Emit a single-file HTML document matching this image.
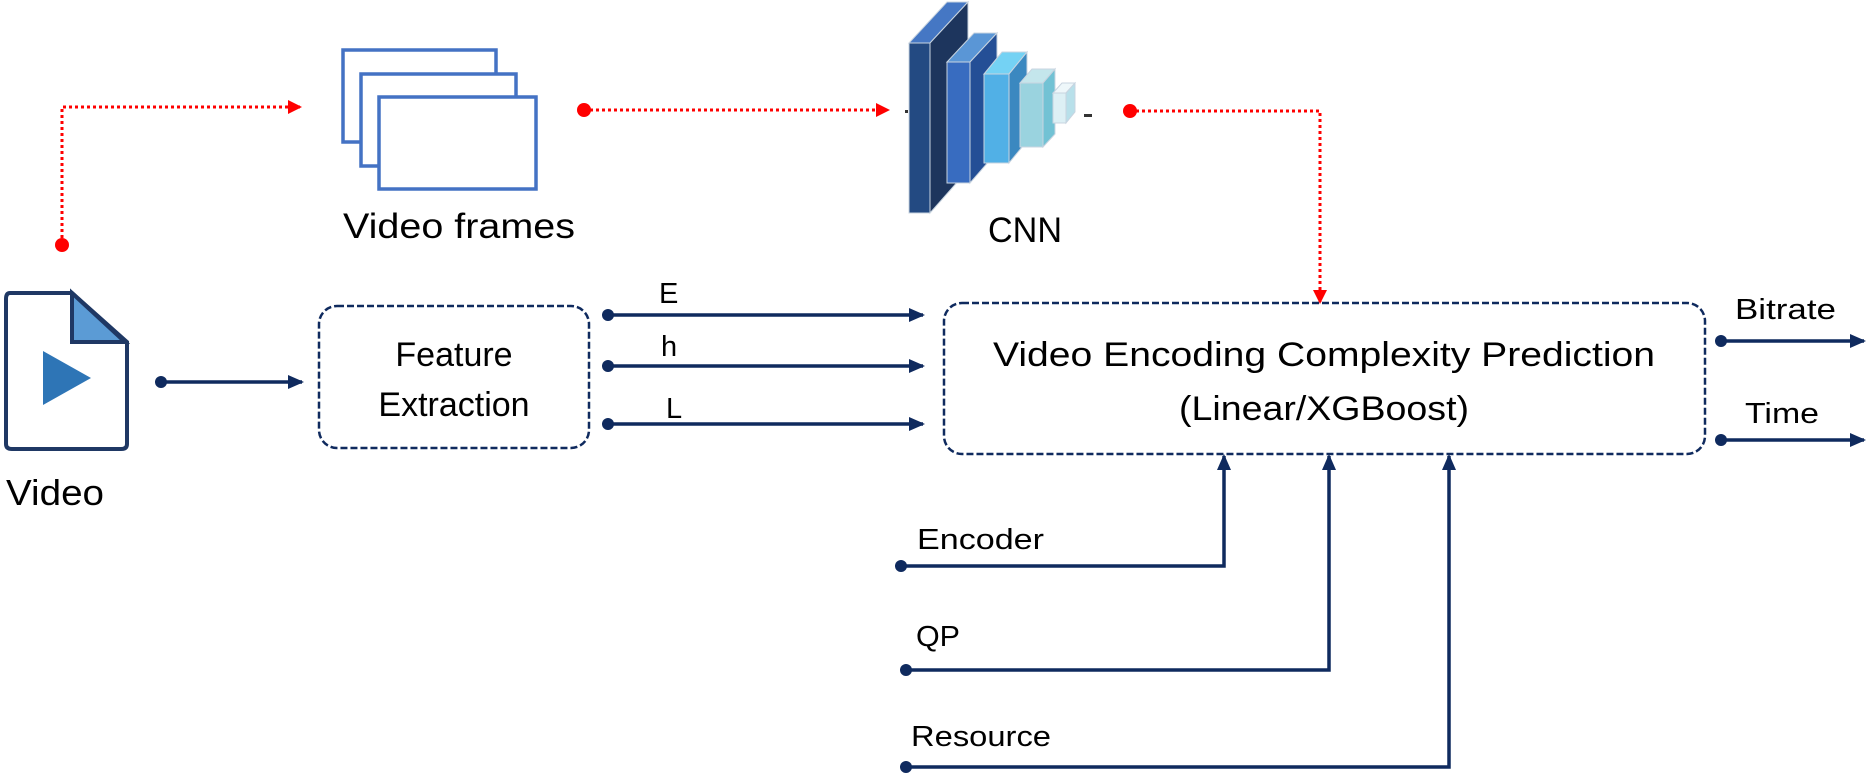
<!DOCTYPE html>
<html><head><meta charset="utf-8"><style>
html,body{margin:0;padding:0;background:#fff;}
svg{display:block;}
text{font-family:"Liberation Sans",sans-serif;fill:#000;}
</style></head><body>
<svg width="1867" height="777" viewBox="0 0 1867 777" xmlns="http://www.w3.org/2000/svg">
<defs>
<marker id="ar" markerWidth="16" markerHeight="14" refX="14" refY="7" orient="auto" markerUnits="userSpaceOnUse"><path d="M0,0 L16,7 L0,14 Z" fill="#0f2a5e"/></marker>
<marker id="rr" markerWidth="14" markerHeight="14" refX="13" refY="7" orient="auto" markerUnits="userSpaceOnUse"><path d="M0,0 L14,7 L0,14 Z" fill="#ff0000"/></marker>
</defs>

<g stroke="#ff0000" stroke-width="3" fill="none" stroke-dasharray="3,3">
<path d="M62,244 V107 H301" marker-end="url(#rr)"/>
<path d="M584,110 H889" marker-end="url(#rr)"/>
<path d="M1130,111 H1320 V303" marker-end="url(#rr)"/>
</g>
<g fill="#ff0000">
<circle cx="62" cy="245" r="7"/>
<circle cx="584" cy="110" r="7"/>
<circle cx="1130" cy="111" r="7"/>
</g>

<g stroke="#4472c4" stroke-width="3.5" fill="#fff">
<rect x="343" y="50" width="153" height="92"/>
<rect x="361" y="74" width="155" height="92"/>
<rect x="379" y="97" width="157" height="92"/>
</g>
<text x="343" y="238" font-size="35" textLength="232" lengthAdjust="spacingAndGlyphs">Video frames</text>

<g stroke="#c8d4e0" stroke-width="1">
<polygon points="909,43 930,43 968,2 947,2" fill="#4577c4"/>
<polygon points="930,43 968,2 968,170 930,213" fill="#1d355d"/>
<rect x="909" y="43" width="21" height="170" fill="#234a82"/>
<polygon points="947,62 970,62 997,33 974,33" fill="#5a96d6"/>
<polygon points="970,62 997,33 997,152 970,183" fill="#244f96"/>
<rect x="947" y="62" width="23" height="121" fill="#386cc0"/>
<polygon points="984,74 1009,74 1027,52 1002,52" fill="#74d2f4"/>
<polygon points="1009,74 1027,52 1027,141 1009,163" fill="#3b88c0"/>
<rect x="984" y="74" width="25" height="89" fill="#51b0e6"/>
<polygon points="1020,83 1043,83 1055,69 1032,69" fill="#c4e6ec"/>
<polygon points="1043,83 1055,69 1055,134 1043,147" fill="#72c2d4"/>
<rect x="1020" y="83" width="23" height="64" fill="#9ad3df"/>
<polygon points="1053,93 1066,93 1075,83 1062,83" fill="#eef7fa"/>
<polygon points="1066,93 1075,83 1075,112 1066,123" fill="#b8e0ea"/>
<rect x="1053" y="93" width="13" height="30" fill="#ddf0f5"/>
</g>
<rect x="1084" y="114" width="8" height="3" fill="#333"/>
<rect x="905" y="110" width="3" height="3" fill="#333"/>
<text x="988" y="242" font-size="35" textLength="74" lengthAdjust="spacingAndGlyphs">CNN</text>

<path d="M10,293 Q6,293 6,299 V444 Q6,449 12,449 H121 Q127,449 127,444 V342 L72,293 Z" fill="#fff" stroke="#1f3864" stroke-width="4"/>
<path d="M72,293 L125,342 H72 Z" fill="#5b9bd5" stroke="#1f3864" stroke-width="4" stroke-linejoin="miter"/>
<polygon points="43,351 43,405 91,378" fill="#2e75b6"/>
<text x="6" y="505" font-size="36" textLength="98" lengthAdjust="spacingAndGlyphs">Video</text>

<g stroke="#0f2a5e" stroke-width="3.5" fill="none">
<path d="M161,382 H302" marker-end="url(#ar)"/>
<path d="M608,315 H923" marker-end="url(#ar)"/>
<path d="M608,366 H923" marker-end="url(#ar)"/>
<path d="M608,424 H923" marker-end="url(#ar)"/>
<path d="M1719,341 H1864" marker-end="url(#ar)"/>
<path d="M1719,440 H1864" marker-end="url(#ar)"/>
<path d="M900,566 H1224 V456" marker-end="url(#ar)"/>
<path d="M906,670 H1329 V456" marker-end="url(#ar)"/>
<path d="M906,767 H1449 V456" marker-end="url(#ar)"/>
</g>
<g fill="#0f2a5e">
<circle cx="161" cy="382" r="6"/>
<circle cx="608" cy="315" r="6"/>
<circle cx="608" cy="366" r="6"/>
<circle cx="608" cy="424" r="6"/>
<circle cx="1721" cy="341" r="6"/>
<circle cx="1721" cy="440" r="6"/>
<circle cx="901" cy="566" r="6"/>
<circle cx="906" cy="670" r="6"/>
<circle cx="906" cy="767" r="6"/>
</g>

<rect x="319" y="306" width="270" height="142" rx="18" fill="none" stroke="#0f2a5e" stroke-width="2.5" stroke-dasharray="7,3"/>
<text x="454" y="366" font-size="34" text-anchor="middle">Feature</text>
<text x="454" y="416" font-size="34" text-anchor="middle">Extraction</text>

<rect x="944" y="303" width="761" height="151" rx="18" fill="none" stroke="#0f2a5e" stroke-width="2.5" stroke-dasharray="7,3"/>
<text x="1324" y="366" font-size="34" text-anchor="middle" textLength="662" lengthAdjust="spacingAndGlyphs">Video Encoding Complexity Prediction</text>
<text x="1324" y="420" font-size="34" text-anchor="middle" textLength="290" lengthAdjust="spacingAndGlyphs">(Linear/XGBoost)</text>

<g font-size="29">
<text x="659" y="303">E</text>
<text x="661" y="356">h</text>
<text x="666" y="418">L</text>
<text x="1735" y="319" textLength="101" lengthAdjust="spacingAndGlyphs">Bitrate</text>
<text x="1745" y="423" textLength="74" lengthAdjust="spacingAndGlyphs">Time</text>
<text x="917" y="549" textLength="127" lengthAdjust="spacingAndGlyphs">Encoder</text>
<text x="916" y="646" textLength="44" lengthAdjust="spacingAndGlyphs">QP</text>
<text x="911" y="746" textLength="140" lengthAdjust="spacingAndGlyphs">Resource</text>
</g>
</svg>
</body></html>
